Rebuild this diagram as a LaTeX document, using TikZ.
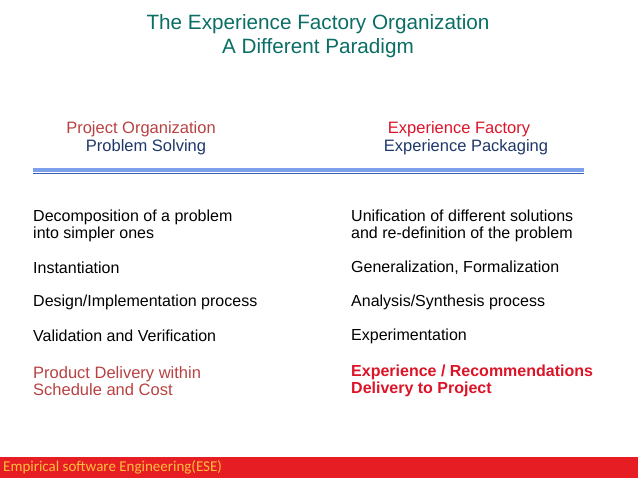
\documentclass[tikz,border=0pt]{standalone}
\usepackage{fontspec}
\setmainfont{Liberation Sans}
\newfontfamily\carl{Carlito}
\definecolor{titlec}{RGB}{10,110,100}
\definecolor{porg}{RGB}{185,65,65}
\definecolor{efac}{RGB}{220,20,40}
\definecolor{dblue}{RGB}{30,55,105}
\definecolor{lblue}{RGB}{70,120,225}
\definecolor{foot}{RGB}{230,30,35}
\definecolor{foott}{RGB}{255,190,60}
\begin{document}
\begin{tikzpicture}[x=1pt,y=-1pt,
  body/.style={anchor=west,font=\fontsize{16}{17.5}\selectfont,align=left,inner sep=0pt},
  head/.style={font=\fontsize{16.5}{17}\selectfont,inner sep=0pt}]
\useasboundingbox (0,0) rectangle (638,478);
\node[font=\fontsize{20.7}{24}\selectfont,text=titlec,align=center] (title) at (318,36) {The Experience Factory Organization\\A Different Paradigm};
\node[head,text=porg] (po) at (141,129) {Project Organization};
\node[head,text=dblue] (ps) at (146,147) {Problem Solving};
\node[head,text=efac] (ef) at (459,129) {Experience Factory};
\node[head,text=dblue] (ep) at (466,147) {Experience Packaging};
\fill[lblue!70] (33,168) rectangle (584,172);
\draw[lblue!80!black,line width=0.8] (33,173) -- (584,173);
\node[body] (l1) at (33,226) {Decomposition of a problem\\into simpler ones};
\node[body] (l2) at (33,268) {Instantiation};
\node[body] (l3) at (33,302) {Design/Implementation process};
\node[body] (l4) at (33,336) {Validation and Verification};
\node[body,text=porg,font=\fontsize{16.5}{17.5}\selectfont] (l5) at (33,381) {Product Delivery within\\Schedule and Cost};
\node[body] (r1) at (351,226) {Unification of different solutions\\and re-definition of the problem};
\node[body] (r2) at (351,268) {Generalization, Formalization};
\node[body] (r3) at (351,302) {Analysis/Synthesis process};
\node[body] (r4) at (351,336) {Experimentation};
\node[body,text=efac,font=\fontsize{16}{17.5}\selectfont\bfseries] (r5) at (351,381) {Experience / Recommendations\\Delivery to Project};
\fill[foot] (0,457) rectangle (638,478);
\node[anchor=west,text=foott,font=\carl\fontsize{15}{15}\selectfont,inner sep=0pt] (ft) at (3,467.5) {Empirical software Engineering(ESE)};
\end{tikzpicture}
\end{document}
